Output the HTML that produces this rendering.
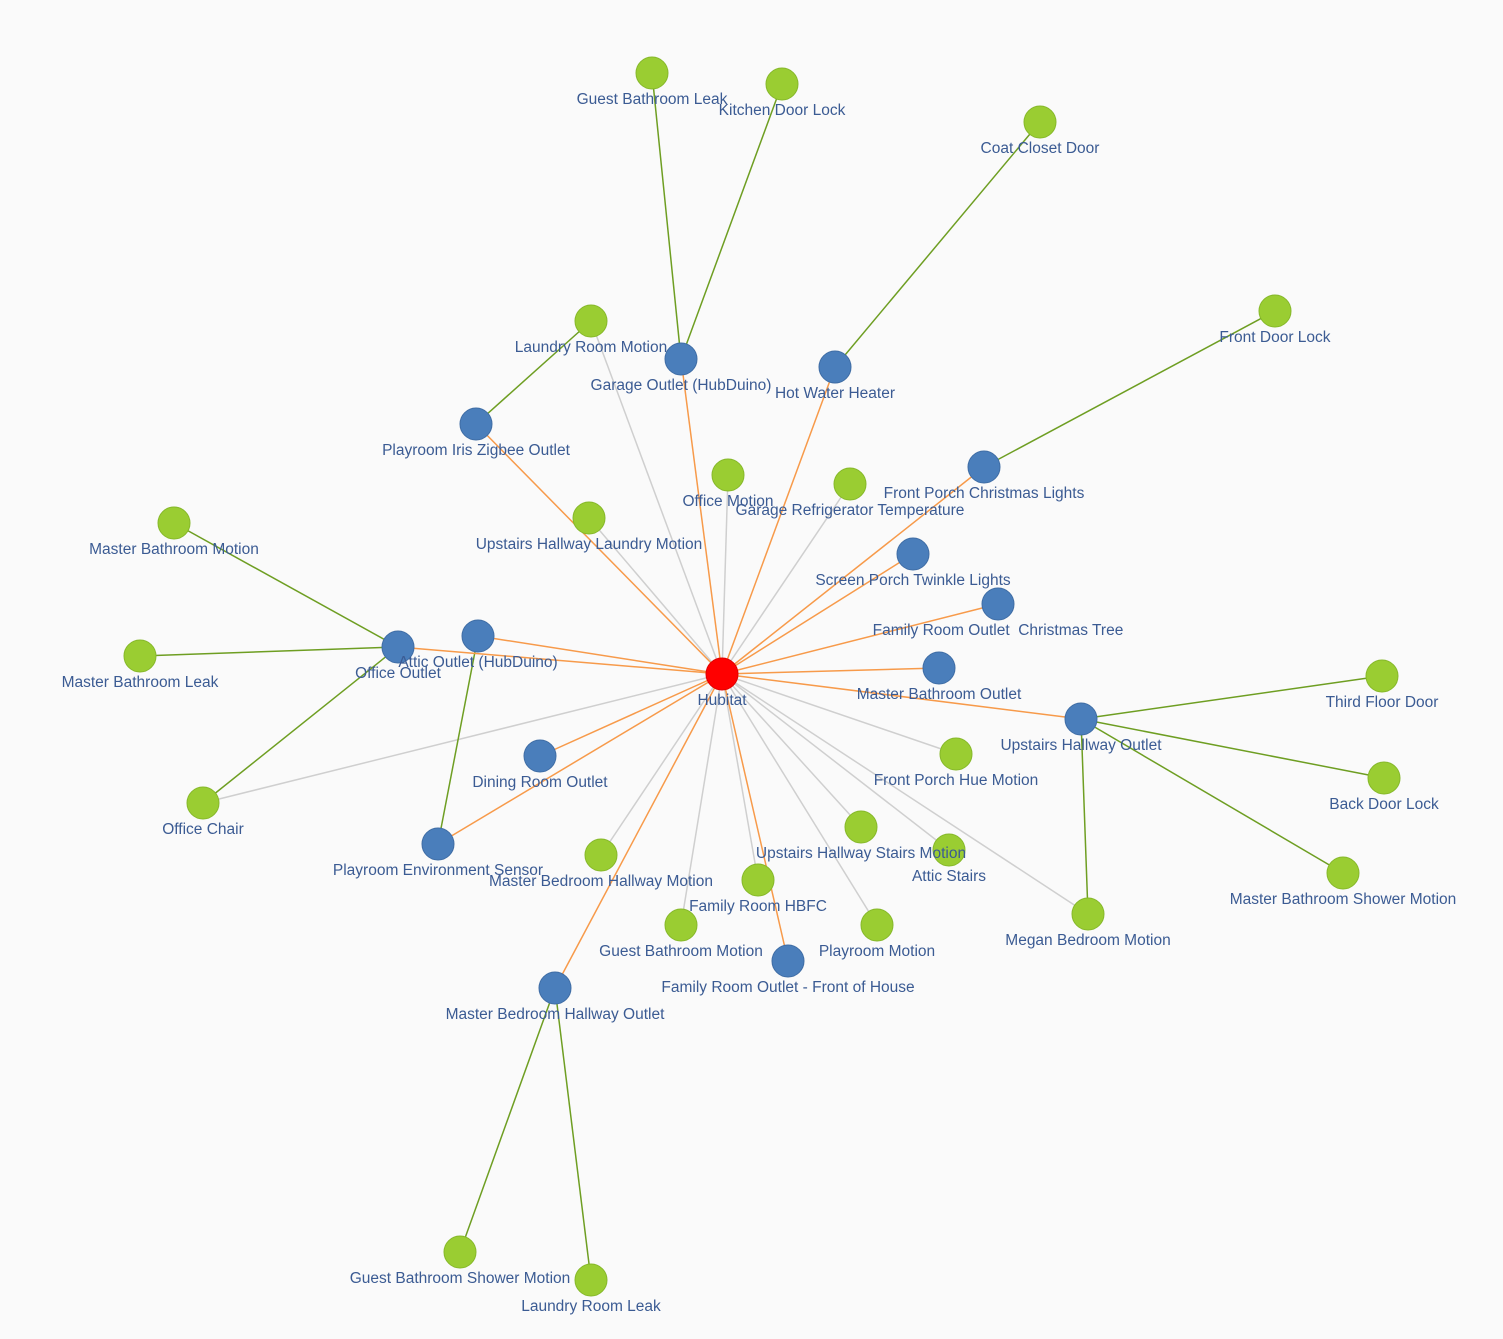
<!DOCTYPE html>
<html><head><meta charset="utf-8"><style>
html,body{margin:0;padding:0;background:#fafafa;}
svg{display:block;}
text{font-family:"Liberation Sans",Arial,sans-serif;font-size:15.5px;fill:#3b5b93;text-anchor:middle;}
</style></head><body>
<svg width="1503" height="1339" viewBox="0 0 1503 1339" xmlns="http://www.w3.org/2000/svg">
<rect width="1503" height="1339" fill="#fafafa"/>
<g id="edges"></g><g id="nodes"></g><g id="labels"></g>
<script>
var N={
H:[722,674,'Hubitat','r'],
GBL:[652,73,'Guest Bathroom Leak','g'],
KDL:[782,84,'Kitchen Door Lock','g'],
CCD:[1040,122,'Coat Closet Door','g'],
FDL:[1275,311,'Front Door Lock','g'],
LRM:[591,321,'Laundry Room Motion','g'],
OM:[728,475,'Office Motion','g'],
GRT:[850,484,'Garage Refrigerator Temperature','g'],
UHLM:[589,518,'Upstairs Hallway Laundry Motion','g'],
MBM:[174,523,'Master Bathroom Motion','g'],
MBL:[140,656,'Master Bathroom Leak','g'],
OC:[203,803,'Office Chair','g'],
TFD:[1382,676,'Third Floor Door','g'],
BDL:[1384,778,'Back Door Lock','g'],
MBSM:[1343,873,'Master Bathroom Shower Motion','g'],
FPHM:[956,754,'Front Porch Hue Motion','g'],
UHSM:[861,827,'Upstairs Hallway Stairs Motion','g'],
AS:[949,850,'Attic Stairs','g'],
MeBM:[1088,914,'Megan Bedroom Motion','g'],
MBHM:[601,855,'Master Bedroom Hallway Motion','g'],
FRH:[758,880,'Family Room HBFC','g'],
GBM:[681,925,'Guest Bathroom Motion','g'],
PM:[877,925,'Playroom Motion','g'],
GBSM:[460,1252,'Guest Bathroom Shower Motion','g'],
LRL:[591,1280,'Laundry Room Leak','g'],
GO:[681,359,'Garage Outlet (HubDuino)','b'],
HWH:[835,367,'Hot Water Heater','b'],
PIZ:[476,424,'Playroom Iris Zigbee Outlet','b'],
FPCL:[984,467,'Front Porch Christmas Lights','b'],
SPTL:[913,554,'Screen Porch Twinkle Lights','b'],
FRCT:[998,604,'Family Room Outlet  Christmas Tree','b'],
MBO:[939,668,'Master Bathroom Outlet','b'],
UHO:[1081,719,'Upstairs Hallway Outlet','b'],
OO:[398,647,'Office Outlet','b'],
AO:[478,636,'Attic Outlet (HubDuino)','b'],
DRO:[540,756,'Dining Room Outlet','b'],
PES:[438,844,'Playroom Environment Sensor','b'],
FRFH:[788,961,'Family Room Outlet - Front of House','b'],
MBHO:[555,988,'Master Bedroom Hallway Outlet','b']
};
var gray=['LRM','OM','GRT','UHLM','OC','FPHM','UHSM','AS','MeBM','MBHM','FRH','GBM','PM'];
var orange=['GO','HWH','PIZ','FPCL','SPTL','FRCT','MBO','UHO','OO','AO','DRO','PES','FRFH','MBHO'];
var green=[['GO','GBL'],['GO','KDL'],['HWH','CCD'],['FPCL','FDL'],['PIZ','LRM'],['OO','MBM'],['OO','MBL'],['OO','OC'],['AO','PES'],['UHO','TFD'],['UHO','BDL'],['UHO','MBSM'],['UHO','MeBM'],['MBHO','GBSM'],['MBHO','LRL']];
var ns='http://www.w3.org/2000/svg';
function el(t,a,p){var e=document.createElementNS(ns,t);for(var k in a)e.setAttribute(k,a[k]);p.appendChild(e);return e;}
var E=document.getElementById('edges'),Nd=document.getElementById('nodes'),L=document.getElementById('labels');
function line(a,b,c){el('line',{x1:N[a][0],y1:N[a][1],x2:N[b][0],y2:N[b][1],stroke:c,'stroke-width':1.5},E);}
gray.forEach(function(k){line('H',k,'#cfcfcf');});
green.forEach(function(p){line(p[0],p[1],'#6e9e22');});
orange.forEach(function(k){line('H',k,'#f79a4a');});
var fill={r:'#ff0000',g:'#9acd32',b:'#4a7ebb'},st={r:'#e00000',g:'#86b82a',b:'#3f6da5'};
for(var k in N){var n=N[k];el('circle',{cx:n[0],cy:n[1],r:16,fill:fill[n[3]],stroke:st[n[3]],'stroke-width':1},Nd);
var t=el('text',{x:n[0],y:n[1]+31},L);t.textContent=n[2];t.setAttribute('xml:space','preserve');t.style.whiteSpace='pre';}
</script>
</svg>
</body></html>
